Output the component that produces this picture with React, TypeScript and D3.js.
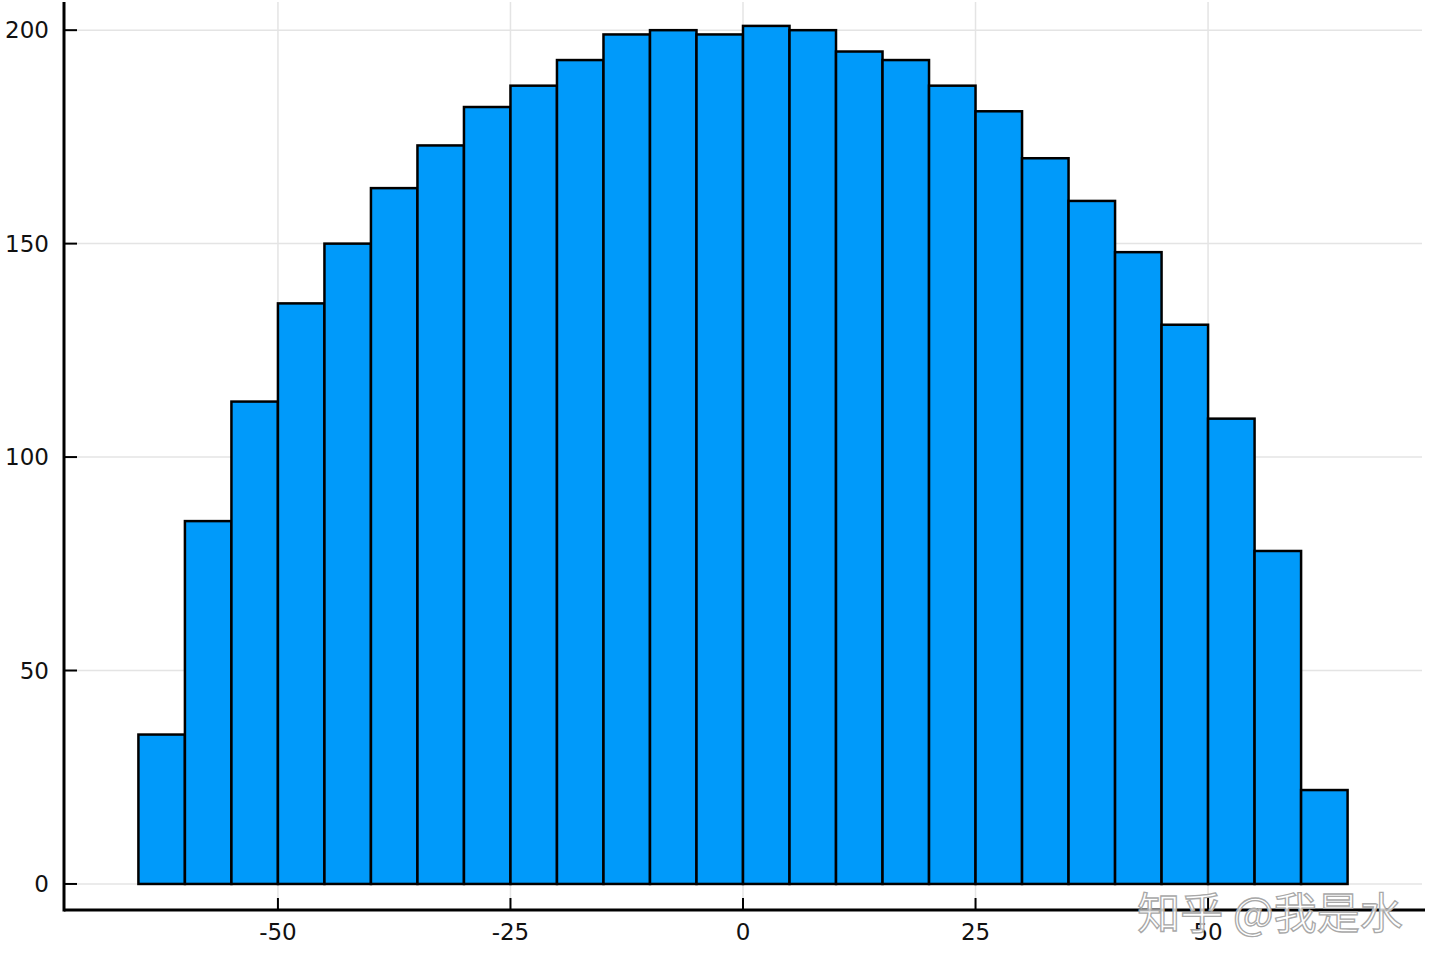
import React from "react";
import * as d3 from "d3";

const binStarts = [-65,-60,-55,-50,-45,-40,-35,-30,-25,-20,-15,-10,-5,0,5,10,15,20,25,30,35,40,45,50,55,60];
const binWidth = 5;
const counts = [35,85,113,136,150,163,173,182,187,193,199,200,199,201,200,195,193,187,181,170,160,148,131,109,78,22];
const xTicks = [-50,-25,0,25,50];
const yTicks = [0,50,100,150,200];

const W = 1440, H = 971;
const left = 64, right = 1422, top = 2, bottom = 910;

export default function App() {
  const x = d3.scaleLinear().domain([-73, 73]).range([left, right]);
  const y = d3.scaleLinear().domain([-6.1, 206.6]).range([bottom, top]);
  const font = "'DejaVu Sans', sans-serif";
  return (
    <svg width={W} height={H} style={{ position: "absolute", left: 0, top: 0, background: "#fff" }}>
      <rect width={W} height={H} fill="#fff" />
      <g>
        {yTicks.map(t => (
          <line key={"gy" + t} x1={left} x2={right} y1={y(t)} y2={y(t)} stroke="#e4e4e4" strokeWidth={1.5} />
        ))}
        {xTicks.map(t => (
          <line key={"gx" + t} x1={x(t)} x2={x(t)} y1={top} y2={bottom} stroke="#e4e4e4" strokeWidth={1.5} />
        ))}
      </g>
      <g>
        {binStarts.map((s, i) => (
          <rect key={i} x={x(s)} y={y(counts[i])} width={x(s + binWidth) - x(s)} height={y(0) - y(counts[i])}
            fill="#009AFA" stroke="#000" strokeWidth={2.5} />
        ))}
      </g>
      <line x1={left} x2={left} y1={top} y2={bottom + 1.5} stroke="#000" strokeWidth={3} />
      <line x1={left} x2={right + 3} y1={bottom} y2={bottom} stroke="#000" strokeWidth={3} />
      {yTicks.map(t => (
        <g key={"ty" + t}>
          <line x1={left} x2={left + 13} y1={y(t)} y2={y(t)} stroke="#000" strokeWidth={2} />
          <text x={49} y={y(t)} dy="0.36em" textAnchor="end" fontFamily={font} fontSize={23} fill="#111">{t}</text>
        </g>
      ))}
      {xTicks.map(t => (
        <g key={"tx" + t}>
          <line x1={x(t)} x2={x(t)} y1={bottom} y2={bottom - 12} stroke="#000" strokeWidth={2} />
          <text x={x(t)} y={940} textAnchor="middle" fontFamily={font} fontSize={23} fill="#111">{t}</text>
        </g>
      ))}
      <text x={1270} y={929} textAnchor="middle" fontFamily="'Noto Sans CJK SC', sans-serif" fontSize={43}
        fill="#ffffff" fillOpacity={0.8} stroke="#a8a8a8" strokeWidth={1.3}>知乎 @我是水</text>
    </svg>
  );
}
